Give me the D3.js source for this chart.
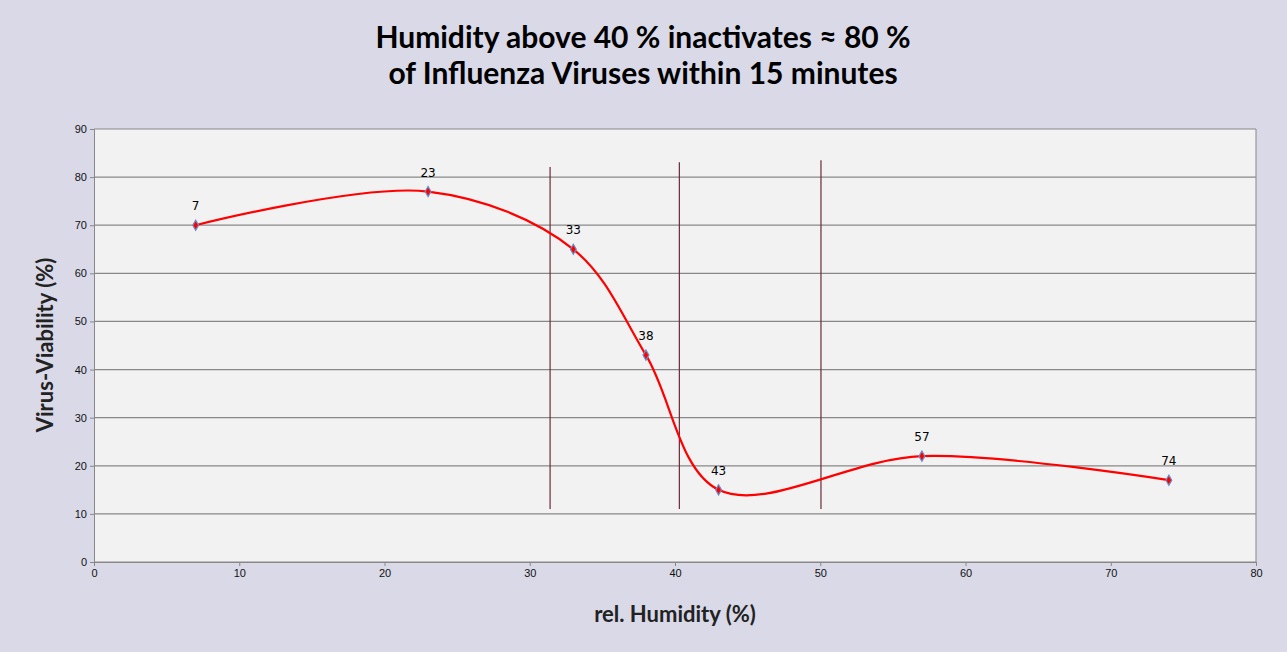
<!DOCTYPE html><html><head><meta charset="utf-8">
<script src="https://cdn.jsdelivr.net/npm/d3@7"></script>
<style>body{margin:0;background:#d9d9e8;}</style></head><body>
<svg id="c" width="1287" height="652"></svg>
<script>
const humidity=[7,23,33,38,43,57,74];
const viability=[70,77,65,43,15,22,17];
const xTicks=[0,10,20,30,40,50,60,70,80];
const yTicks=[0,10,20,30,40,50,60,70,80,90];
const vLines=[{x:31.4,y0:11,y1:82.1},{x:40.3,y0:11,y1:83.1},{x:50.05,y0:11,y1:83.5}];
const titleLines=["Humidity above 40 % inactivates \u2248 80 %","of Influenza Viruses within 15 minutes"];
const svg=d3.select("#c");
svg.append("rect").attr("width",1287).attr("height",652).attr("fill","#d9d9e8");
const x=d3.scaleLinear().domain([0,80]).range([94,1256]);
const y=d3.scaleLinear().domain([0,90]).range([562,129]);
svg.append("rect").attr("x",94).attr("y",129).attr("width",1162).attr("height",433).attr("fill","#f2f2f2");
yTicks.forEach(t=>{svg.append("line").attr("x1",94).attr("x2",1256).attr("y1",y(t)).attr("y2",y(t)).attr("stroke","#888").attr("stroke-width",1.2);});
const ya=svg.append("g").attr("transform","translate(94,0)").call(d3.axisLeft(y).tickValues(yTicks).tickSize(4));
const xa=svg.append("g").attr("transform","translate(0,562)").call(d3.axisBottom(x).tickValues(xTicks).tickSize(4));
[ya,xa].forEach(a=>{a.selectAll("text").attr("font-family","Liberation Sans, Arial").attr("font-size",11).attr("fill","#111");a.selectAll("path,line").attr("stroke","#888");});
svg.append("line").attr("x1",1256).attr("x2",1256).attr("y1",129).attr("y2",562).attr("stroke","#888");
vLines.forEach(v=>svg.append("line").attr("x1",x(v.x)).attr("x2",x(v.x)).attr("y1",y(v.y0)).attr("y2",y(v.y1)).attr("stroke","#6b2a3a").attr("stroke-width",1.2));
const pts=humidity.map((h,i)=>[h,viability[i]]);
svg.append("path").datum(pts).attr("d",d3.line().x(d=>x(d[0])).y(d=>y(d[1])).curve(d3.curveCatmullRom.alpha(0.5)))
 .attr("fill","none").attr("stroke","#ff0000").attr("stroke-width",2.2);
pts.forEach(d=>{
 svg.append("path").attr("d",d3.symbol(d3.symbolDiamond,30)()).attr("transform",`translate(${x(d[0])},${y(d[1])})`).attr("fill","#ff0000").attr("stroke","#6a8fc8").attr("stroke-width",1.2);
 svg.append("text").attr("x",x(d[0])).attr("y",y(d[1])-15).attr("text-anchor","middle").attr("font-family","DejaVu Sans").attr("font-size",12).text(d[0]);
});
titleLines.forEach((t,i)=>svg.append("text").attr("x",643).attr("y",48+i*36).attr("text-anchor","middle").attr("font-family","Lato").attr("font-weight","bold").attr("font-size",30).text(t));
svg.append("text").attr("x",675).attr("y",622).attr("text-anchor","middle").attr("font-family","Lato").attr("font-weight","bold").attr("font-size",22).attr("fill","#222").text("rel.  Humidity (%)");
svg.append("text").attr("transform","translate(53,345) rotate(-90)").attr("text-anchor","middle").attr("font-family","Lato").attr("font-weight","bold").attr("font-size",22).attr("fill","#222").text("Virus-Viability (%)");
</script></body></html>
